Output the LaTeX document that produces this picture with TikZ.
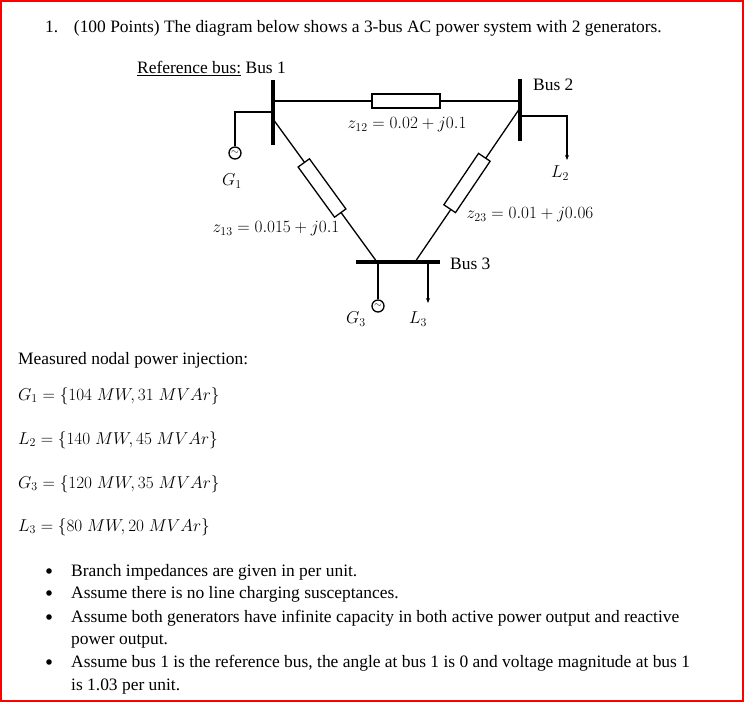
\documentclass[tikz,border=0pt]{standalone}
\usepackage{fontspec}
\setmainfont{Liberation Serif}
\usetikzlibrary{arrows.meta}
\begin{document}
\begin{tikzpicture}[x=1bp,y=-1bp,
  txt/.style={anchor=base west,inner sep=0pt,font=\fontsize{17.5}{20}\selectfont},
  lbl/.style={inner sep=0pt,font=\fontsize{17}{20}\selectfont},
  busbar/.style={line width=4pt},
  wire/.style={line width=1.3pt},
  res/.style={draw,line width=1.3pt,fill=white,minimum width=68bp,minimum height=14bp,inner sep=0pt},
  gen/.style={draw,circle,line width=1.3pt,minimum size=12bp,inner sep=0pt,font=\fontsize{10}{10}\selectfont},
  ld/.style={wire,-{Stealth[length=5pt,width=4pt]}}]
\useasboundingbox (0,0) rectangle (745,703);
\draw[red,line width=2.2pt] (1,1) rectangle (743,701);
\node[txt] (t1) at (45,33) {1.\hspace{0.9em}(100 Points) The diagram below shows a 3-bus AC power system with 2 generators.};
\node[txt] (ref) at (137,74) {\underline{Reference bus:} Bus 1};
% buses
\coordinate (b1t) at (273,80); \coordinate (b1b) at (273,145);
\coordinate (b2t) at (520,79); \coordinate (b2b) at (520,141);
\coordinate (b3l) at (356,262); \coordinate (b3r) at (440,262);
\draw[busbar] (b1t) -- (b1b);
\draw[busbar] (b2t) -- (b2b);
\draw[busbar] (b3l) -- (b3r);
\node[txt] (bus2) at (533,91) {Bus 2};
\node[txt] (bus3) at (450,269) {Bus 3};
% line 1-2
\coordinate (a12) at (273,101); \coordinate (c12) at (520,101);
\draw[wire] (a12) -- (c12);
\node[res] (r12) at (406,101) {};
\node[lbl] (z12) at (407,125) {$z_{12}=0.02+j0.1$};
% line 1-3
\coordinate (a13) at (273,119); \coordinate (c13) at (377,262);
\draw[wire] (a13) -- (c13);
\node[res,minimum width=62bp,rotate=-54] (r13) at (322,188) {};
\node[lbl] (z13) at (276,229) {$z_{13}=0.015+j0.1$};
% line 2-3
\coordinate (a23) at (520,108); \coordinate (c23) at (415,262);
\draw[wire] (a23) -- (c23);
\node[res,minimum width=62bp,rotate=56] (r23) at (467,183) {};
\node[lbl] (z23) at (530,215) {$z_{23}=0.01+j0.06$};
% G1
\node[gen] (g1) at (235,153) {$\sim$};
\coordinate (g1a) at (273,112); \coordinate (g1b) at (235,112);
\draw[wire] (g1a) -- (g1b) -- (g1.north);
\node[lbl] (g1l) at (232,181) {$G_1$};
% L2
\coordinate (l2a) at (520,116); \coordinate (l2b) at (567,116); \coordinate (l2c) at (567,160);
\draw[ld] (l2a) -- (l2b) -- (l2c);
\node[lbl] (l2l) at (560,173) {$L_2$};
% G3
\node[gen] (g3) at (378,306) {$\sim$};
\coordinate (g3a) at (378,262);
\draw[wire] (g3a) -- (g3.north);
\node[lbl] (g3l) at (356,319) {$G_3$};
% L3
\coordinate (l3a) at (428,262); \coordinate (l3b) at (428,303);
\draw[ld] (l3a) -- (l3b);
\node[lbl] (l3l) at (418,319) {$L_3$};
% text
\node[txt] (m) at (18,364) {Measured nodal power injection:};
\node[txt] (e1) at (18,400) {$G_1=\{104\;MW,31\;MVAr\}$};
\node[txt] (e2) at (18,444) {$L_2=\{140\;MW,45\;MVAr\}$};
\node[txt] (e3) at (18,488) {$G_3=\{120\;MW,35\;MVAr\}$};
\node[txt] (e4) at (18,531) {$L_3=\{80\;MW,20\;MVAr\}$};
\foreach \y in {576,598,622,667}{\fill (49,\y-5) circle (2.8bp);}
\node[txt] (p1) at (71,576) {Branch impedances are given in per unit.};
\node[txt] (p2) at (71,598) {Assume there is no line charging susceptances.};
\node[txt] (p3) at (71,622) {Assume both generators have infinite capacity in both active power output and reactive};
\node[txt] (p3b) at (71,644) {power output.};
\node[txt] (p4) at (71,667) {Assume bus 1 is the reference bus, the angle at bus 1 is 0 and voltage magnitude at bus 1};
\node[txt] (p4b) at (71,690) {is 1.03 per unit.};
\end{tikzpicture}
\end{document}
